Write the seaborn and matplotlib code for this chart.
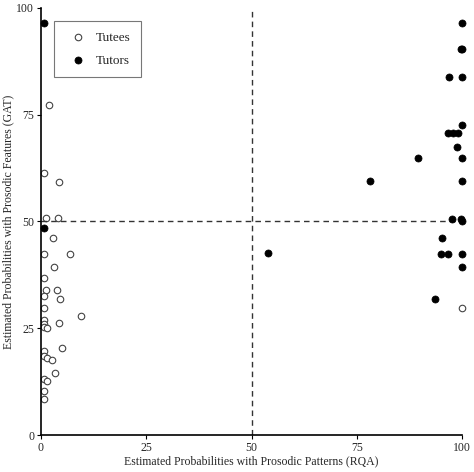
import matplotlib
matplotlib.use("Agg")
import matplotlib.pyplot as plt
import seaborn as sns
import pandas as pd

tutee_x = [1.9, 0.7, 4.3, 1.2, 4.1, 2.8, 0.7, 7.0, 3.2, 0.7, 1.2, 3.9, 4.5, 0.7, 0.7, 9.5,
           0.7, 0.7, 0.7, 1.5, 4.2, 5.1, 0.7, 0.7, 1.5, 2.7, 3.3, 0.7, 1.5, 0.7, 0.7, 100]
tutee_y = [77.3, 61.3, 59.3, 50.8, 50.8, 46.1, 42.4, 42.4, 39.4, 36.8, 34.0, 34.0, 31.9, 32.6, 29.7, 27.9,
           26.9, 25.9, 25.2, 25.1, 26.2, 20.4, 19.6, 18.4, 18.1, 17.6, 14.6, 13.1, 12.6, 10.2, 8.5, 29.7]
tutor_x = [0.7, 0.7, 100, 99.8, 100, 97.0, 100, 100, 96.7, 97.8, 99.0, 98.9, 89.6, 100, 78.1, 100,
           97.6, 99.7, 100, 95.3, 95.1, 96.7, 100, 99.9, 93.6, 54.0]
tutor_y = [96.6, 48.4, 96.6, 90.5, 90.5, 83.9, 83.9, 72.7, 70.8, 70.8, 70.8, 67.5, 64.8, 64.8, 59.4, 59.4,
           50.7, 50.7, 50.2, 46.1, 42.5, 42.4, 42.5, 39.4, 31.9, 42.6]

df = pd.DataFrame({
    "x": tutee_x + tutor_x,
    "y": tutee_y + tutor_y,
    "group": ["Tutees"] * len(tutee_x) + ["Tutors"] * len(tutor_x),
})

sns.set_style("ticks")
plt.rcParams["font.family"] = ["Liberation Serif", "DejaVu Serif"]

fig = plt.figure(figsize=(4.74, 4.72), dpi=100)
ax = fig.add_axes([41/474, 37/472, 421/474, 427/472])

sub = df[df.group == "Tutees"]
sns.scatterplot(data=sub, x="x", y="y", ax=ax, marker="o", s=22,
                facecolor="white", edgecolor="#444444", linewidth=0.8, label="Tutees", clip_on=False)
sub = df[df.group == "Tutors"]
sns.scatterplot(data=sub, x="x", y="y", ax=ax, marker="o", s=26,
                color="black", edgecolor="black", linewidth=0.5, label="Tutors", clip_on=False, zorder=3)

ax.axvline(50, color="#333333", ls=(0, (4, 3)), lw=1)
ax.axhline(50, color="#333333", ls=(0, (4, 3)), lw=1)

ax.set_xlim(0, 100)
ax.set_ylim(0, 100)
ax.set_xticks([0, 25, 50, 75, 100])
ax.set_yticks([0, 25, 50, 75, 100])
ax.tick_params(labelsize=8.5, length=3, pad=2, color="black")
ax.set_xlabel("Estimated Probabilities with Prosodic Patterns (RQA)", fontsize=8.5, labelpad=1)
ax.set_ylabel("Estimated Probabilities with Prosodic Features (GAT)", fontsize=8.5, labelpad=1)
for s in ["top", "right"]:
    ax.spines[s].set_visible(False)
for s in ["left", "bottom"]:
    ax.spines[s].set_linewidth(1.2)
    ax.spines[s].set_color("black")

leg = ax.legend(loc="upper left", bbox_to_anchor=(0.015, 0.985), frameon=True, fancybox=False,
                edgecolor="#555555", fontsize=9.5, borderpad=0.8, labelspacing=0.8, handletextpad=0.4)
leg.get_frame().set_linewidth(0.8)

fig.savefig("out.png", dpi=100)
